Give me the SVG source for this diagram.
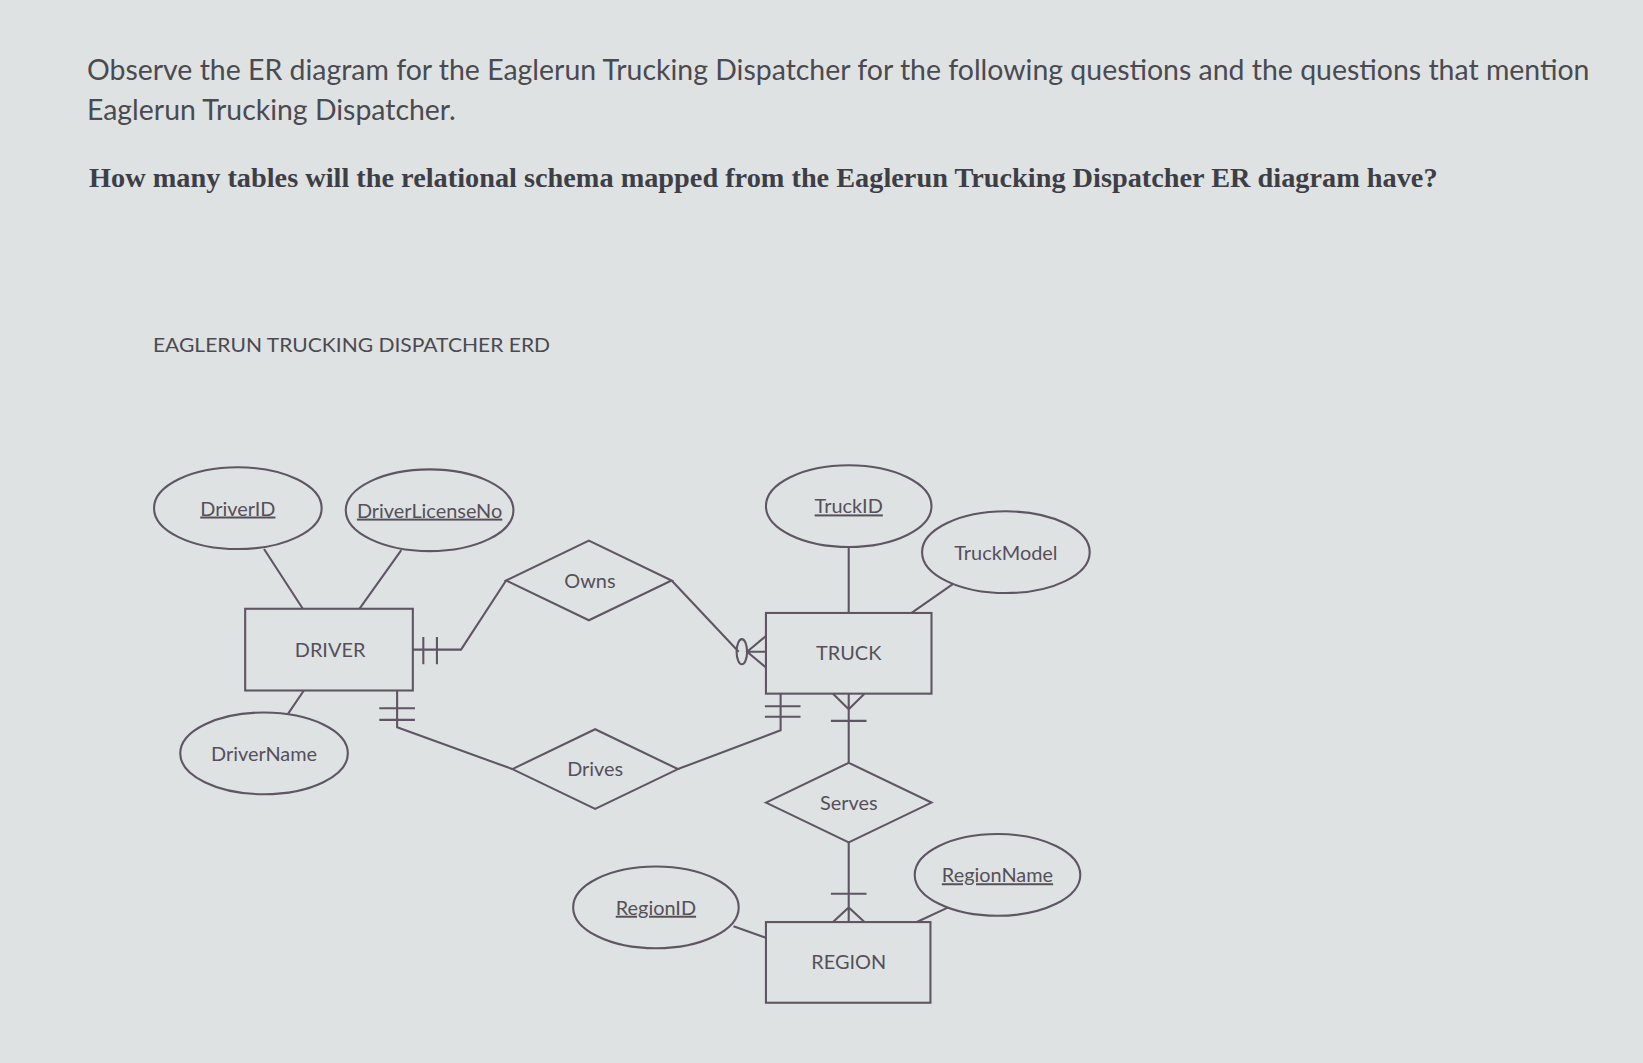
<svg xmlns="http://www.w3.org/2000/svg" width="1643" height="1063" viewBox="0 0 1643 1063">
<style>
.s{fill:none;stroke:#5f5565;stroke-width:2}
.e{fill:none;stroke:#5f5565;stroke-width:2}
.t{font-family:Lato,"Liberation Sans",sans-serif;font-size:19px;fill:#55505a;text-anchor:middle}
.u{text-decoration:underline}
</style>
<rect width="1643" height="1063" fill="#dfe2e2"/>
<g transform="scale(1.0478)">
<text x="83" y="76" font-family="Lato,'Liberation Sans',sans-serif" font-size="27" fill="#4a4a50" textLength="1434" lengthAdjust="spacingAndGlyphs">Observe the ER diagram for the Eaglerun Trucking Dispatcher for the following questions and the questions that mention</text>
<text x="83" y="115" font-family="Lato,'Liberation Sans',sans-serif" font-size="27" fill="#4a4a50" textLength="352" lengthAdjust="spacingAndGlyphs">Eaglerun Trucking Dispatcher.</text>
<text x="85" y="178" font-family="'Liberation Serif',serif" font-size="26" font-weight="bold" fill="#3e3e46" textLength="1287" lengthAdjust="spacingAndGlyphs">How many tables will the relational schema mapped from the Eaglerun Trucking Dispatcher ER diagram have?</text>
<text x="146" y="336" font-family="Lato,'Liberation Sans',sans-serif" font-size="19" fill="#4a4a50" textLength="379" lengthAdjust="spacingAndGlyphs">EAGLERUN TRUCKING DISPATCHER ERD</text>
<g id="connectors" class="s">
<path d="M252 524L289 581M383 525L343 581M290 659L275 681"/>
<path d="M394 620H440L483 554M404 608V634M417 608V634"/>
<path d="M641 554L705 622M731 607L713 622L731 637M713 622H731"/>
<ellipse cx="708" cy="622" rx="5" ry="12"/>
<path d="M379 659V694L489 734M362 676H396M362 687H396"/>
<path d="M647 734L745 697V662M730 674H764M730 684H764"/>
<path d="M810 662V728M795 662L810 677L825 662M793 688H827"/>
<path d="M810 522V585M910 557L870 585"/>
<path d="M810 804V880M793 853H827M795 880L810 866L825 880"/>
<path d="M700 884L731 895M905 866L875 880"/>
</g>
<g id="DriverID"><ellipse class="e" cx="227" cy="485" rx="80" ry="39"/><text class="t u" x="227" y="492">DriverID</text></g>
<g id="DriverLicenseNo"><ellipse class="e" cx="410" cy="487" rx="80" ry="39"/><text class="t u" x="410" y="494">DriverLicenseNo</text></g>
<g id="TruckID"><ellipse class="e" cx="810" cy="483" rx="79" ry="39"/><text class="t u" x="810" y="490">TruckID</text></g>
<g id="TruckModel"><ellipse class="e" cx="960" cy="527" rx="80" ry="39"/><text class="t" x="960" y="534">TruckModel</text></g>
<g id="DriverName"><ellipse class="e" cx="252" cy="719" rx="80" ry="39"/><text class="t" x="252" y="726">DriverName</text></g>
<g id="RegionID"><ellipse class="e" cx="626" cy="866" rx="79" ry="39"/><text class="t u" x="626" y="873">RegionID</text></g>
<g id="RegionName"><ellipse class="e" cx="952" cy="835" rx="79" ry="39"/><text class="t u" x="952" y="842">RegionName</text></g>
<g id="DRIVER"><rect class="s" x="234" y="581" width="160" height="78"/><text class="t" x="315" y="627">DRIVER</text></g>
<g id="TRUCK"><rect class="s" x="731" y="585" width="158" height="77"/><text class="t" x="810" y="630">TRUCK</text></g>
<g id="REGION"><rect class="s" x="731" y="880" width="157" height="77"/><text class="t" x="810" y="925">REGION</text></g>
<g id="Owns"><path class="s" d="M483 554L562 516L641 554L562 592Z"/><text class="t" x="563" y="561">Owns</text></g>
<g id="Drives"><path class="s" d="M489 734L568 696L647 734L568 772Z"/><text class="t" x="568" y="741">Drives</text></g>
<g id="Serves"><path class="s" d="M731 766L810 728L889 766L810 804Z"/><text class="t" x="810" y="773">Serves</text></g>
</g>
</svg>
